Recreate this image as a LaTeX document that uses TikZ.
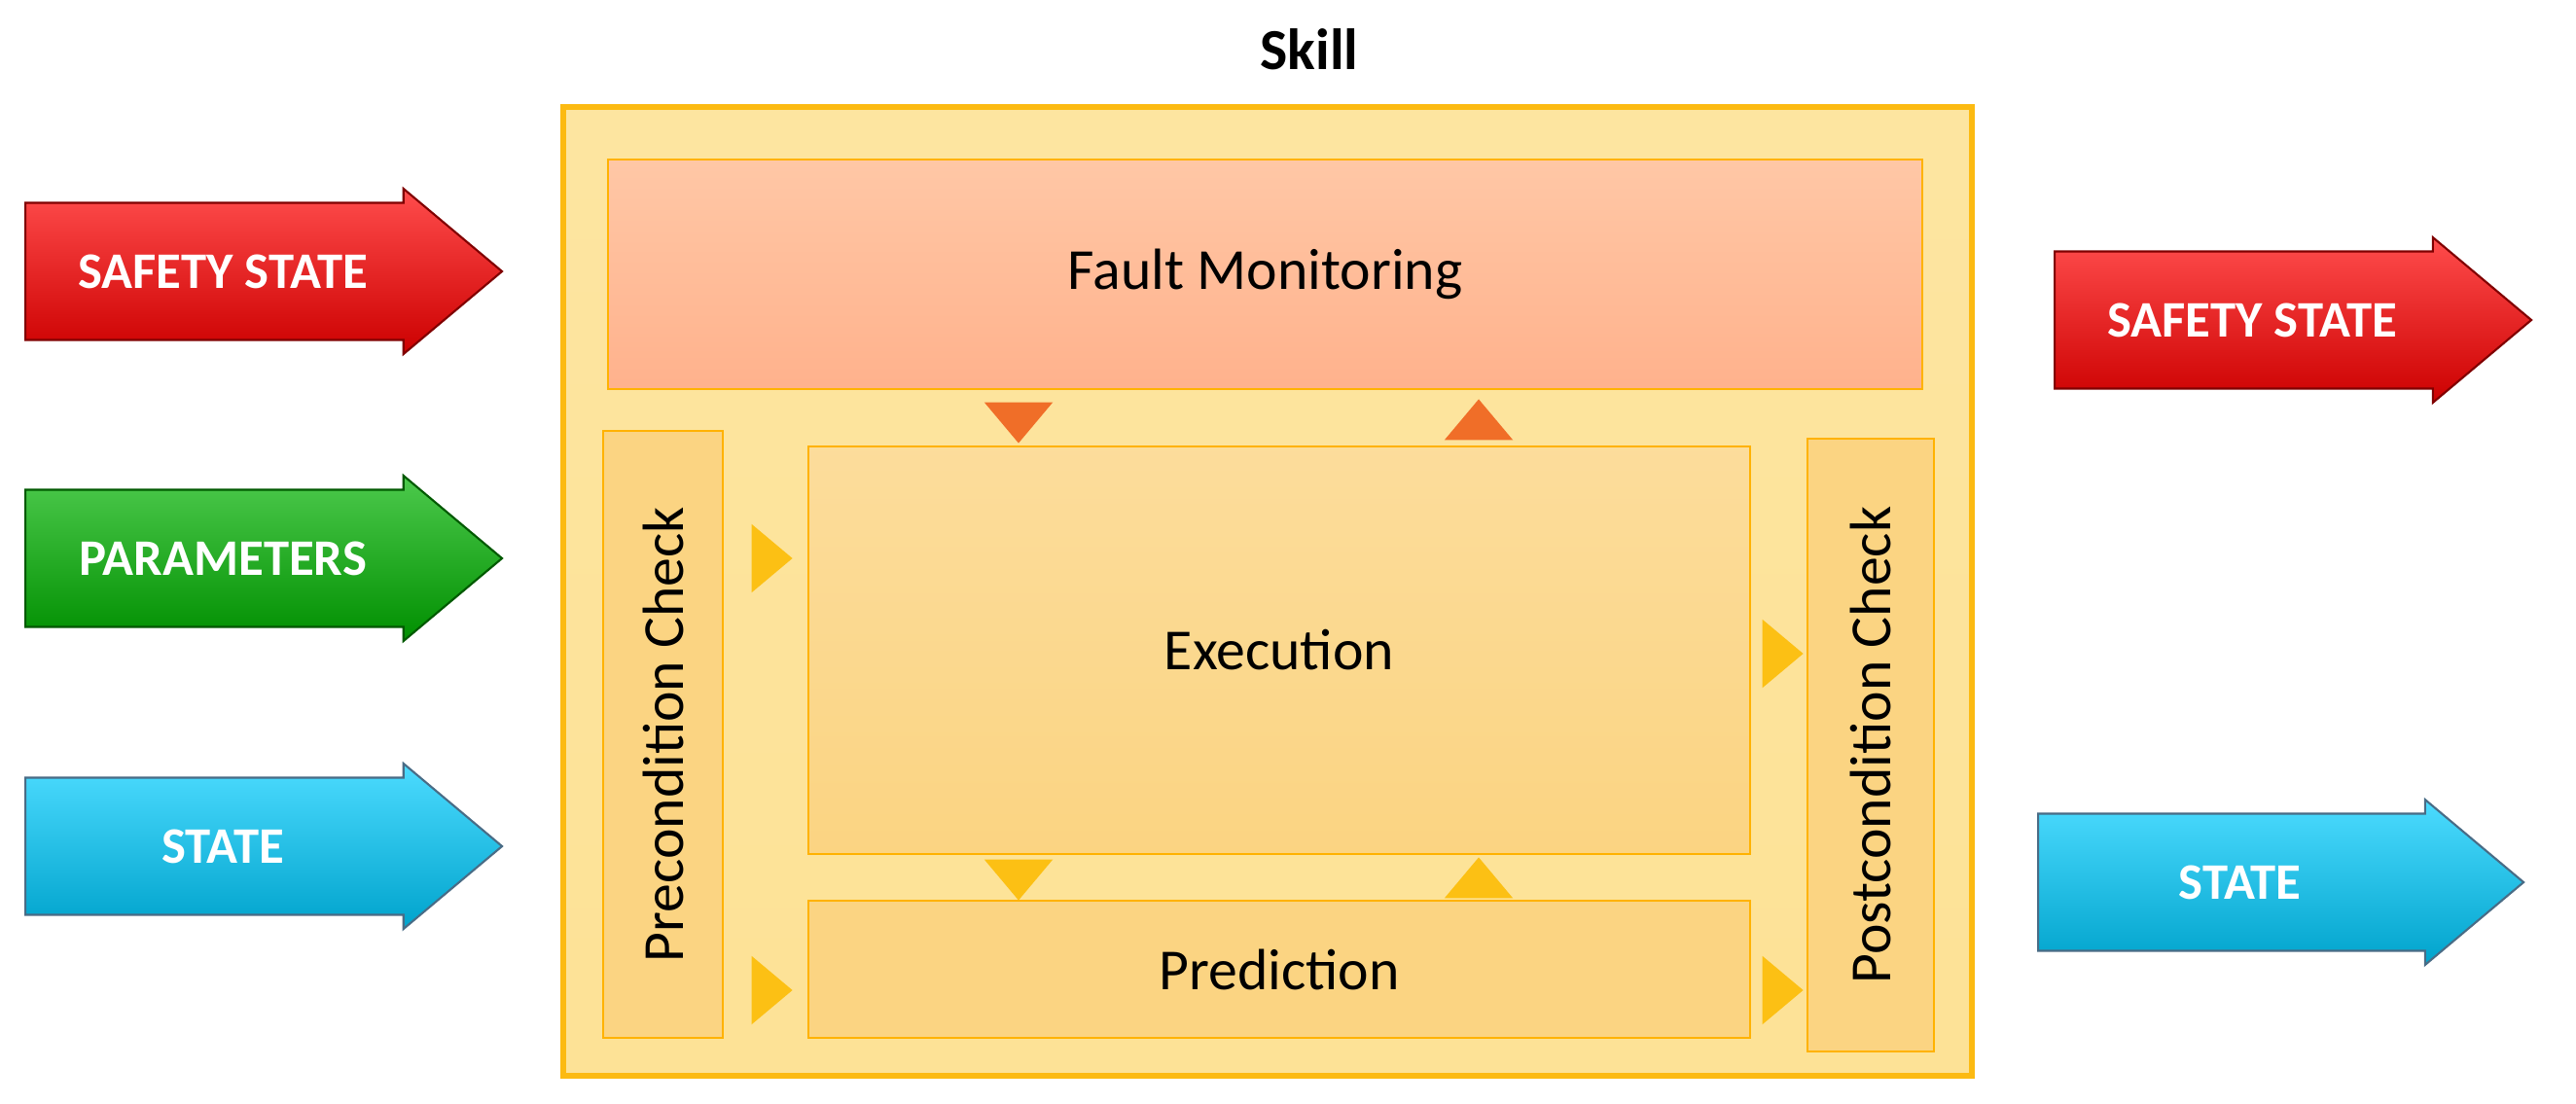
\documentclass[tikz,border=0pt]{standalone}
\usepackage{fontspec}
\setmainfont{Carlito}
\usetikzlibrary{shapes.arrows,shapes.geometric}
\begin{document}
\begin{tikzpicture}[x=1cm,y=1cm]
\definecolor{geel}{RGB}{252,192,20}
\definecolor{oranje}{RGB}{240,110,40}
\definecolor{vak}{RGB}{251,212,130}
\definecolor{buiten}{RGB}{253,226,150}
\tikzset{blok/.style={draw=orange!60!yellow, line width=0.8pt, inner sep=0pt},
  pijl/.style={single arrow, draw=#1!50!black, line width=0.6pt, top color=#1!70!white, bottom color=#1!80!black,
    minimum height=4.9cm, minimum width=1.7cm, single arrow head extend=0.1cm, single arrow tip angle=80,
    inner xsep=2pt, inner ysep=0.3cm, text=white, font=\fontsize{15}{18}\selectfont\bfseries, anchor=west},
  driehoek/.style={isosceles triangle, isosceles triangle apex angle=80, fill=#1, inner sep=0pt, minimum size=0.42cm, minimum width=0.42cm},
  tekst/.style={font=\fontsize{17}{20}\selectfont}}
\useasboundingbox (0,0) rectangle (26.48,-11.35);
% buitenste blok
\node[font=\fontsize{17}{20}\selectfont\bfseries] (titel) at (13.46,-0.51) {Skill};
\fill[top color=buiten!90!white, bottom color=buiten, draw=geel!90!orange, line width=1.5pt] (5.79,-1.10) rectangle (20.27,-11.06);
\node[blok, top color=red!25!orange!35, bottom color=red!35!orange!45, minimum width=13.51cm, minimum height=2.36cm, tekst] (fout) at (13.005,-2.82) {Fault Monitoring};
\node[blok, top color=vak!80!white, bottom color=vak, minimum width=9.68cm, minimum height=4.19cm, tekst] (uitv) at (13.15,-6.685) {Execution};
\node[blok, fill=vak, minimum width=9.68cm, minimum height=1.41cm, tekst] (voorsp) at (13.15,-9.965) {Prediction};
\node[blok, fill=vak, minimum height=1.23cm, minimum width=6.24cm, tekst, rotate=90] (pre) at (6.815,-7.55) {Precondition Check};
\node[blok, fill=vak, minimum height=1.30cm, minimum width=6.30cm, tekst, rotate=90] (post) at (19.23,-7.66) {Postcondition Check};
% driehoekjes
\node[driehoek=oranje, rotate=-90] (d1) at (10.47,-4.30) {};
\node[driehoek=oranje, rotate=90] (d2) at (15.20,-4.36) {};
\node[driehoek=geel] (d3) at (7.89,-5.74) {};
\node[driehoek=geel] (d4) at (18.28,-6.72) {};
\node[driehoek=geel, rotate=-90] (d5) at (10.47,-9.00) {};
\node[driehoek=geel, rotate=90] (d6) at (15.20,-9.07) {};
\node[driehoek=geel] (d7) at (7.89,-10.18) {};
\node[driehoek=geel] (d8) at (18.28,-10.18) {};
% pijlen
\node[pijl=red] (veilig1) at (0.25,-2.79) {SAFETY STATE};
\node[pijl=green!70!black] (param) at (0.25,-5.74) {PARAMETERS};
\node[pijl=cyan!80!blue] (staat1) at (0.25,-8.70) {STATE};
\node[pijl=red] (veilig2) at (21.11,-3.29) {SAFETY STATE};
\node[pijl=cyan!80!blue, minimum height=4.99cm] (staat2) at (20.94,-9.07) {STATE};
\end{tikzpicture}
\end{document}
